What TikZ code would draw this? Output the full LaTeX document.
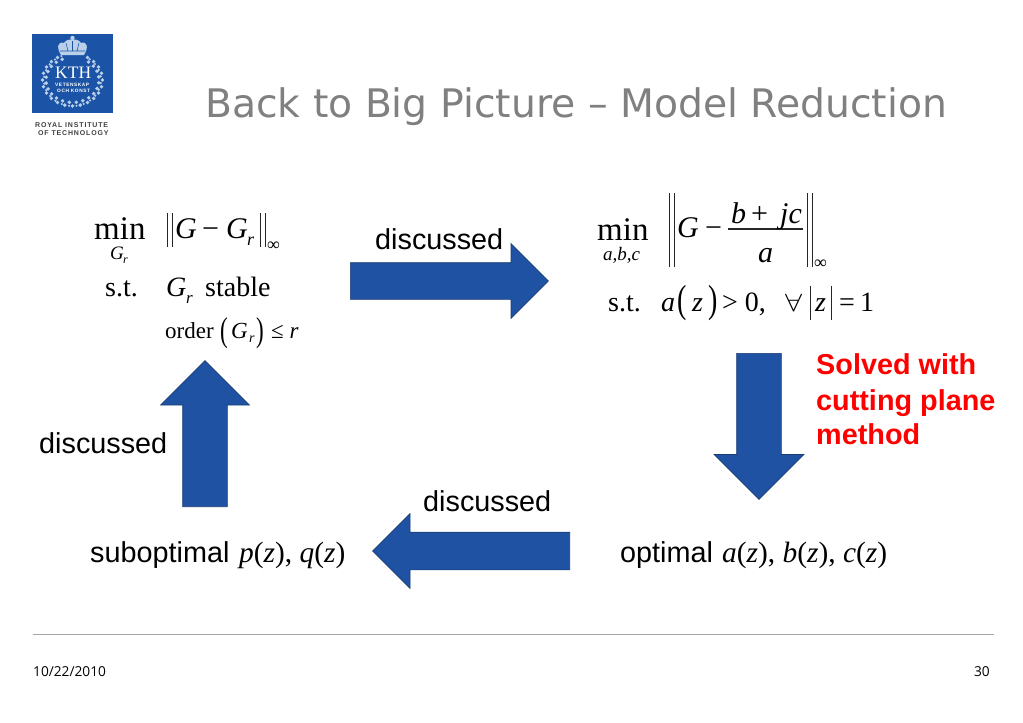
\documentclass[tikz,border=0pt]{standalone}
\usepackage{fontspec}
\setmainfont{Liberation Serif}
\setsansfont{Liberation Sans}
\newfontfamily\titlefont{DejaVu Sans}
\newfontfamily\footfont{Open Sans}
\newfontfamily\logofont[LetterSpace=12]{Liberation Sans}
\usetikzlibrary{shapes.arrows}
\definecolor{kthblue}{HTML}{1B54A6}
\definecolor{arrowblue}{HTML}{1F52A3}
\definecolor{arrowedge}{HTML}{1A3C70}
\definecolor{wreath}{HTML}{B9CFEA}
\newcommand{\fs}[1]{\fontsize{#1}{#1}\selectfont}
\newcommand{\mv}[1]{\textit{#1}}
\newcommand{\tallp}[2]{\scalebox{1}[#1]{#2}}
\tikzset{
  lbl/.style={anchor=base west,inner sep=0pt},
  normbar/.style={line width=1pt,black!85},
  bigarrow/.style={single arrow,anchor=tail,draw=arrowedge,fill=arrowblue,line width=.7pt,inner xsep=0pt,single arrow head indent=0pt}
}
\begin{document}
\begin{tikzpicture}[x=1pt,y=-1pt]
\useasboundingbox (0,0) rectangle (1023,723);
% logo
\fill[kthblue] (32,34) rectangle (113,113);
\foreach \a in {-60,-45,...,240} {
  \fill[wreath] ({72.5+30*cos(\a)},{80+26*sin(\a)}) circle (1.9);
  \fill[wreath] ({72.5+26.5*cos(\a+7)},{80+22.5*sin(\a+7)}) circle (1.9);
  \fill[wreath] ({72.5+28.5*cos(\a+7)},{80+26*sin(\a+7)}) circle (1.2);
}
\fill[wreath] (61,55) .. controls (56,47) and (58,41) .. (64,43) .. controls (66,40) and (69,39) .. (72.5,40) .. controls (76,39) and (79,40) .. (81,43) .. controls (87,41) and (89,47) .. (84,55) -- cycle;
\fill[wreath] (72.5,38) circle (2.2);
\draw[kthblue,line width=.6pt] (60,51) -- (85,51) (66,43) -- (68,51) (72.5,41) -- (72.5,51) (79,43) -- (77,51);
\node[lbl,text=white] (logoK) at (55,78) {\fs{17.5}KTH};
\node[lbl,text=white] (logoV) at (55,86) {\logofont\bfseries\fs{4.8}VETENSKAP};
\node[lbl,text=white] (logoO) at (57,92) {\logofont\bfseries\fs{4.8}OCH KONST};
\node[lbl,text=black!75] (logoR) at (35,127.5) {\logofont\bfseries\fs{7}ROYAL INSTITUTE};
\node[lbl,text=black!75] (logoT) at (38,135) {\logofont\bfseries\fs{7}OF TECHNOLOGY};
% title
\node[lbl,text=black!50] (title) at (205,117) {\titlefont\fs{39.3}Back to Big Picture – Model Reduction};
% left formula
\node[lbl] (minL) at (94,239) {\fs{33}min};
\node[lbl] (minLsub) at (110,259) {\fs{19}\mv{G}};
\node[lbl] (minLsubr) at (123,263) {\fs{12}\mv{r}};
\foreach \x in {167,172,260,265} \draw[normbar] (\x,213) -- (\x,247);
\node[lbl] (normG) at (175,238) {\fs{30}\mv{G}};
\node[lbl] (normM) at (202,238) {\fs{30}−};
\node[lbl] (normGr) at (226,238) {\fs{30}\mv{G}};
\node[lbl] (normr) at (247,245) {\fs{18}\mv{r}};
\node[lbl] (norminf) at (267,250) {\fs{18}∞};
\node[lbl] (stL) at (105,296) {\fs{28}s.t.};
\node[lbl] (stG) at (166,296) {\fs{28}\mv{G}};
\node[lbl] (str) at (186,303) {\fs{17}\mv{r}};
\node[lbl] (stable) at (205,296) {\fs{28}stable};
\node[lbl] (order) at (165,338) {\fs{23}order};
\node[lbl] (orderP) at (220,341) {\fs{23}\tallp{1.5}{(}};
\node[lbl] (orderG) at (231,338) {\fs{23}\mv{G}};
\node[lbl] (orderr) at (249,342) {\fs{14}\mv{r}};
\node[lbl] (orderQ) at (256,341) {\fs{23}\tallp{1.5}{)}};
\node[lbl] (orderle) at (271,338) {\fs{23}≤ \mv{r}};
% right formula
\node[lbl] (minR) at (597,240) {\fs{33}min};
\node[lbl] (minRsub) at (603,260) {\fs{19}\mv{a,b,c}};
\foreach \x in {669,674,807,812} \draw[normbar] (\x,193) -- (\x,267);
\node[lbl] (fracG) at (677,237) {\fs{30}\mv{G}};
\node[lbl] (fracM) at (705,237) {\fs{30}−};
\coordinate (barA) at (728,229);
\coordinate (barB) at (803,229);
\draw[line width=1.3pt,black!85] (barA) -- (barB);
\node[lbl] (fracb) at (731,223) {\fs{30}\mv{b}};
\node[lbl] (fracp) at (751,223) {\fs{30}+};
\node[lbl] (fracjc) at (780,223) {\fs{30}\mv{jc}};
\node[lbl] (fraca) at (758,262) {\fs{30}\mv{a}};
\node[lbl] (fracinf) at (814,268) {\fs{18}∞};
\node[lbl] (stR) at (608,311) {\fs{28}s.t.};
\node[lbl] (sta) at (661,311) {\fs{28}\mv{a}};
\node[lbl] (stP) at (677,312) {\fs{28}\tallp{1.4}{(}};
\node[lbl] (stz) at (692,311) {\fs{28}\mv{z}};
\node[lbl] (stQ) at (708,312) {\fs{28}\tallp{1.4}{)}};
\node[lbl] (stgt) at (722,311) {\fs{28}> 0,};
\node[lbl] (stall) at (785,311) {\fs{30}\scalebox{1.23}[1]{$\forall$}};
\foreach \x in {810,831} \draw[normbar] (\x,286) -- (\x,320);
\node[lbl] (stz2) at (815,311) {\fs{28}\mv{z}};
\node[lbl] (steq) at (839,311) {\fs{28}=};
\node[lbl] (stone) at (860,311) {\fs{28}1};
% big arrows
\node[bigarrow,inner ysep=18pt,minimum height=198pt,single arrow head extend=19pt] (arrowTop) at (350,281) {};
\node[bigarrow,rotate=-90,inner ysep=22pt,minimum height=146pt,single arrow head extend=22.5pt] (arrowRight) at (759,353) {};
\node[bigarrow,rotate=180,inner ysep=18.5pt,minimum height=197pt,single arrow head extend=18.5pt] (arrowBottom) at (570,551) {};
\node[bigarrow,rotate=90,inner ysep=22pt,minimum height=146pt,single arrow head extend=22pt] (arrowLeft) at (205,507) {};
% labels
\node[lbl] (discTop) at (375,249) {\sffamily\fs{28.8}discussed};
\node[lbl] (discLeft) at (39,453) {\sffamily\fs{28.8}discussed};
\node[lbl] (discBottom) at (423,511) {\sffamily\fs{28.8}discussed};
\node[lbl,text=red] (solved1) at (816,374) {\sffamily\bfseries\fs{28.8}Solved with};
\node[lbl,text=red] (solved2) at (816,410) {\sffamily\bfseries\fs{28.8}cutting plane};
\node[lbl,text=red] (solved3) at (816,444) {\sffamily\bfseries\fs{28.8}method};
\node[lbl] (subopt) at (90,562) {\sffamily\fs{28.8}suboptimal};
\node[lbl] (suboptvars) at (239,562) {\fs{29.4}\mv{p}(\mv{z}), \mv{q}(\mv{z})};
\node[lbl] (opt) at (620,562) {\sffamily\fs{28.8}optimal};
\node[lbl] (optvars) at (722,562) {\fs{29.4}\mv{a}(\mv{z}), \mv{b}(\mv{z}), \mv{c}(\mv{z})};
% footer
\coordinate (ruleA) at (33,634);
\coordinate (ruleB) at (994,634);
\draw[black!35,line width=1pt] (ruleA) -- (ruleB);
\node[lbl] (date) at (33,676) {\footfont\fs{13.7}10/22/2010};
\node[lbl,anchor=base east] (page) at (990,676) {\footfont\fs{13.7}30};
\end{tikzpicture}
\end{document}
